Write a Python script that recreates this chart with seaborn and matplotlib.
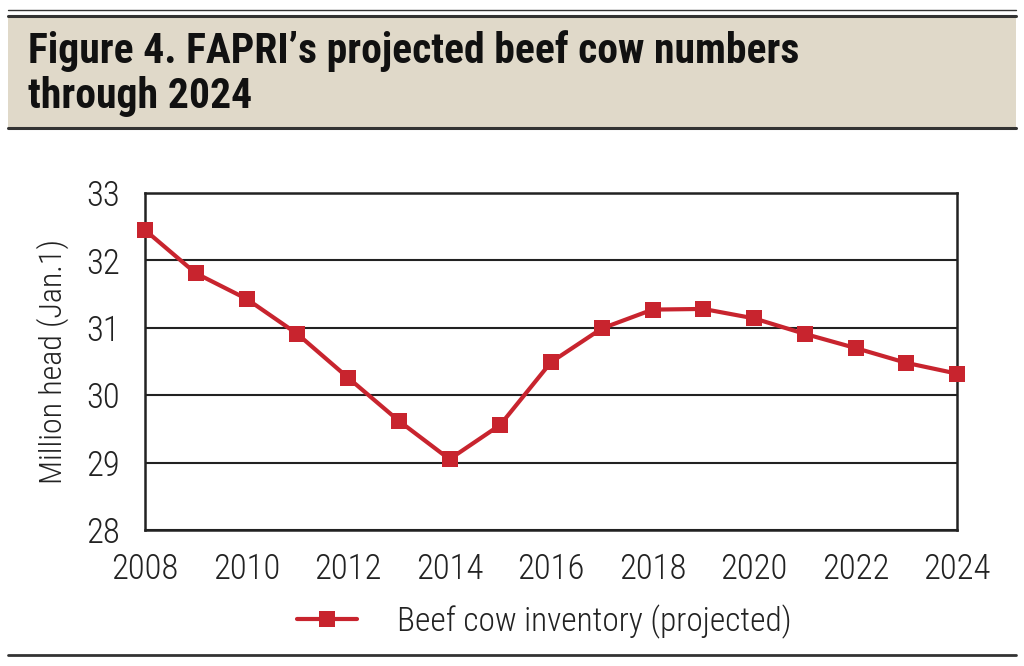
import pandas as pd
import matplotlib.pyplot as plt
import seaborn as sns
from matplotlib.patches import Rectangle
from matplotlib.lines import Line2D

# dados
anos = [2008, 2009, 2010, 2011, 2012, 2013, 2014, 2015, 2016,
        2017, 2018, 2019, 2020, 2021, 2022, 2023, 2024]
vacas = [32.45, 31.81, 31.43, 30.91, 30.26, 29.62, 29.05, 29.56, 30.49,
         30.99, 31.27, 31.28, 31.14, 30.91, 30.70, 30.48, 30.32]
y_ticks = [28, 29, 30, 31, 32, 33]
x_ticks = [2008, 2010, 2012, 2014, 2016, 2018, 2020, 2022, 2024]
serie = "Beef cow inventory (projected)"

df = pd.DataFrame({"Ano": anos, "Vacas": vacas})

sns.set_style("white")
plt.rcParams['font.family'] = ['Roboto Condensed', 'DejaVu Sans']

vermelho = "#c8242e"
texto = "#222222"
fig = plt.figure(figsize=(10.24, 6.66), dpi=100)
ax = fig.add_axes([0.1416, 0.2042, 0.793, 0.506])

sns.lineplot(data=df, x="Ano", y="Vacas", ax=ax, color=vermelho, lw=3,
             marker="s", markersize=11, markeredgewidth=0, clip_on=False, zorder=5)

ax.set_xlim(2008, 2024)
ax.set_ylim(28, 33)
ax.set_xticks(x_ticks)
ax.set_yticks(y_ticks)
ax.tick_params(axis='both', labelsize=25, length=0, colors=texto)
ax.tick_params(axis='x', pad=16)
ax.tick_params(axis='y', pad=18)
for lab in ax.get_xticklabels() + ax.get_yticklabels():
    lab.set_fontweight(300)
ax.yaxis.grid(True, color=texto, lw=1.5)
ax.set_axisbelow(True)
for s in ax.spines.values():
    s.set_visible(True)
    s.set_color(texto)
    s.set_linewidth(1.8)
ax.set_xlabel("")
ax.set_ylabel("Million head (Jan.1)", fontsize=23, fontweight=300, color=texto, labelpad=12)

# legenda
h = Line2D([], [], color=vermelho, lw=3, marker="s", markersize=11, markeredgewidth=0)
leg = fig.legend([h], [serie], loc="center", bbox_to_anchor=(0.532, 0.067),
                 frameon=False, fontsize=24, handlelength=1.8, handletextpad=1.2,
                 labelcolor=texto)
for t in leg.get_texts():
    t.set_fontweight(300)

# faixa do título
fig.patches.append(Rectangle((0.008, 0.808), 0.984, 0.168, transform=fig.transFigure,
                             facecolor="#e0d9c9", edgecolor="none", zorder=0))
for y, lw in [(0.985, 1.0), (0.976, 2.2), (0.808, 2.2), (0.0165, 2.0)]:
    fig.add_artist(Line2D([0.008, 0.992], [y, y], transform=fig.transFigure,
                          color="#333333", lw=lw))
fig.text(0.027, 0.905, "Figure 4. FAPRI\u2019s projected beef cow numbers",
         fontsize=30, fontweight="bold", color="#111111", va="baseline")
fig.text(0.027, 0.838, "through 2024",
         fontsize=30, fontweight="bold", color="#111111", va="baseline")

plt.savefig("out.png", dpi=100)
